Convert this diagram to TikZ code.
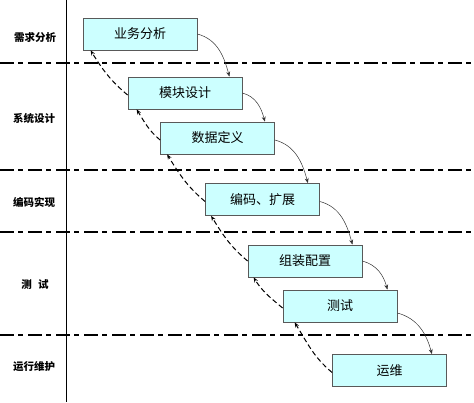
\documentclass[tikz,border=0pt]{standalone}
\usepackage{fontspec}
\newfontfamily\cjk{Noto Sans CJK SC}
\usetikzlibrary{arrows.meta}
\begin{document}
\begin{tikzpicture}[x=1pt,y=-1pt,
  stage/.style={draw=black!65, fill={rgb,255:red,204;green,255;blue,255}, line width=0.8pt, minimum width=114pt, minimum height=32pt, inner sep=0pt, font=\cjk\fontsize{13}{13}\selectfont},
  phase/.style={font=\cjk\bfseries\fontsize{10.5}{10.5}\selectfont, inner sep=0pt},
  sep/.style={line width=1.6pt, dash pattern=on 14pt off 4pt on 5pt off 5pt},
  fwd/.style={-{Stealth[length=5pt,width=4pt]}, line width=0.5pt, black!80},
  back/.style={-{Stealth[length=5pt,width=4pt]}, line width=1pt, dash pattern=on 5pt off 3pt}
]
\useasboundingbox (0,0) rectangle (474,402);
\coordinate (vt) at (66,0);
\coordinate (vb) at (66,402);
\draw[line width=0.6pt] (vt) -- (vb);
\coordinate (l1a) at (0,63); \coordinate (l1b) at (474,63);
\coordinate (l2a) at (0,170); \coordinate (l2b) at (474,170);
\coordinate (l3a) at (0,232); \coordinate (l3b) at (474,232);
\coordinate (l4a) at (0,335); \coordinate (l4b) at (474,335);
\draw[sep] (l1a) -- (l1b);
\draw[sep] (l2a) -- (l2b);
\draw[sep] (l3a) -- (l3b);
\draw[sep] (l4a) -- (l4b);

\node[phase] (p1) at (35,37) {需求分析};
\node[phase] (p2) at (34,118) {系统设计};
\node[phase] (p3) at (34,202) {编码实现};
\node[phase] (p4) at (35,285) {测\hspace{0.6em}试};
\node[phase] (p5) at (34,367) {运行维护};

\node[stage] (b1) at (140,34) {业务分析};
\node[stage] (b2) at (185,93) {模块设计};
\node[stage] (b3) at (217.5,138) {数据定义};
\node[stage] (b4) at (262.5,199.5) {编码、扩展};
\node[stage] (b5) at (305,261) {组装配置};
\node[stage] (b6) at (340,306) {测试};
\node[stage] (b7) at (389.5,370.5) {运维};

\draw[fwd] (b1.east) to[out=-15,in=105] ([xshift=-13pt]b2.north east);
\draw[fwd] (b2.east) to[out=-15,in=105] ([xshift=-10pt]b3.north east);
\draw[fwd] ([yshift=-2pt]b3.east) to[out=-15,in=105] ([xshift=-12pt]b4.north east);
\draw[fwd] ([yshift=-2pt]b4.east) to[out=-15,in=105] ([xshift=-10pt]b5.north east);
\draw[fwd] (b5.east) to[out=-15,in=105] ([xshift=-10pt]b6.north east);
\draw[fwd] ([yshift=-7pt]b6.east) to[out=-15,in=105] ([xshift=-15pt]b7.north east);

\draw[back] ([yshift=-2pt]b2.west) to[out=140,in=-58] ([xshift=8pt]b1.south west);
\draw[back] ([yshift=-2pt]b3.west) to[out=140,in=-58] ([xshift=9pt]b2.south west);
\draw[back] ([yshift=-2pt]b4.west) to[out=140,in=-58] ([xshift=7pt]b3.south west);
\draw[back] (b5.west) to[out=140,in=-58] ([xshift=6pt]b4.south west);
\draw[back] ([yshift=-2pt]b6.west) to[out=140,in=-58] ([xshift=6pt]b5.south west);
\draw[back] ([yshift=-2pt]b7.west) to[out=140,in=-58] ([xshift=12pt]b6.south west);
\end{tikzpicture}
\end{document}
